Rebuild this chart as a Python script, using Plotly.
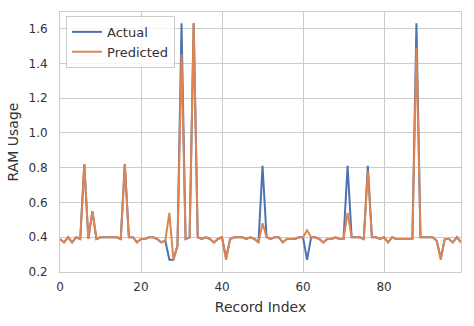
import plotly.graph_objects as go

record_index = list(range(100))
actual = [0.39, 0.37, 0.40, 0.37, 0.40, 0.39, 0.82, 0.39, 0.55, 0.39,
          0.40, 0.40, 0.40, 0.40, 0.40, 0.39, 0.82, 0.40, 0.40, 0.37,
          0.39, 0.39, 0.40, 0.40, 0.39, 0.37, 0.38, 0.27, 0.27, 0.35,
          1.63, 0.39, 0.40, 1.63, 0.40, 0.39, 0.40, 0.39, 0.37, 0.39,
          0.40, 0.28, 0.39, 0.40, 0.40, 0.40, 0.39, 0.40, 0.39, 0.37,
          0.81, 0.40, 0.39, 0.40, 0.40, 0.37, 0.39, 0.39, 0.39, 0.40,
          0.40, 0.27, 0.40, 0.40, 0.39, 0.37, 0.39, 0.39, 0.40, 0.39,
          0.39, 0.81, 0.40, 0.40, 0.40, 0.39, 0.81, 0.40, 0.40, 0.39,
          0.40, 0.37, 0.40, 0.39, 0.39, 0.39, 0.39, 0.39, 1.63, 0.40,
          0.40, 0.40, 0.40, 0.38, 0.28, 0.39, 0.39, 0.37, 0.40, 0.37]
predicted = [0.39, 0.37, 0.40, 0.37, 0.40, 0.39, 0.82, 0.39, 0.55, 0.39,
             0.40, 0.40, 0.40, 0.40, 0.40, 0.39, 0.82, 0.40, 0.40, 0.37,
             0.39, 0.39, 0.40, 0.40, 0.39, 0.37, 0.38, 0.54, 0.27, 0.35,
             1.45, 0.39, 0.40, 1.63, 0.40, 0.39, 0.40, 0.39, 0.37, 0.39,
             0.40, 0.27, 0.39, 0.40, 0.40, 0.40, 0.39, 0.40, 0.39, 0.37,
             0.48, 0.40, 0.39, 0.40, 0.40, 0.37, 0.39, 0.39, 0.39, 0.40,
             0.40, 0.44, 0.40, 0.40, 0.39, 0.37, 0.39, 0.39, 0.40, 0.39,
             0.39, 0.54, 0.40, 0.40, 0.40, 0.39, 0.78, 0.40, 0.40, 0.39,
             0.40, 0.37, 0.40, 0.39, 0.39, 0.39, 0.39, 0.39, 1.49, 0.40,
             0.40, 0.40, 0.40, 0.38, 0.27, 0.39, 0.39, 0.37, 0.40, 0.37]
x_ticks = [0, 20, 40, 60, 80]
y_ticks = [0.2, 0.4, 0.6, 0.8, 1.0, 1.2, 1.4, 1.6]

fig = go.Figure()
fig.add_trace(go.Scatter(x=record_index, y=actual, mode="lines", name="Actual",
                         line=dict(color="#4c72b0", width=2)))
fig.add_trace(go.Scatter(x=record_index, y=predicted, mode="lines", name="Predicted",
                         line=dict(color="#dd8452", width=2)))

tick_font = dict(family="DejaVu Sans", size=12, color="#333333")
title_font = dict(family="DejaVu Sans", size=14, color="#333333")
axis_common = dict(showgrid=True, gridcolor="#cccccc", gridwidth=1, showline=True,
                   linecolor="#cccccc", linewidth=1, mirror=True, zeroline=False,
                   ticks="", tickfont=tick_font)
fig.update_layout(
    width=474, height=326,
    margin=dict(l=60, r=13, t=12, b=54),
    paper_bgcolor="white", plot_bgcolor="white",
    font=tick_font,
    showlegend=True,
    legend=dict(x=0.015, y=0.985, xanchor="left", yanchor="top",
                bgcolor="rgba(255,255,255,0.8)", bordercolor="#cccccc", borderwidth=1,
                font=dict(family="DejaVu Sans", size=13, color="#333333"),
                tracegroupgap=0, itemwidth=30),
    xaxis=dict(range=[0, 99], tickvals=x_ticks, ticklabelstandoff=4,
               title=dict(text="Record Index", font=title_font, standoff=8),
               **axis_common),
    yaxis=dict(range=[0.2, 1.695], tickvals=y_ticks, tickformat=".1f", ticklabelstandoff=9,
               title=dict(text="RAM Usage", font=title_font, standoff=6),
               **axis_common),
)
fig.write_html("out.html")
